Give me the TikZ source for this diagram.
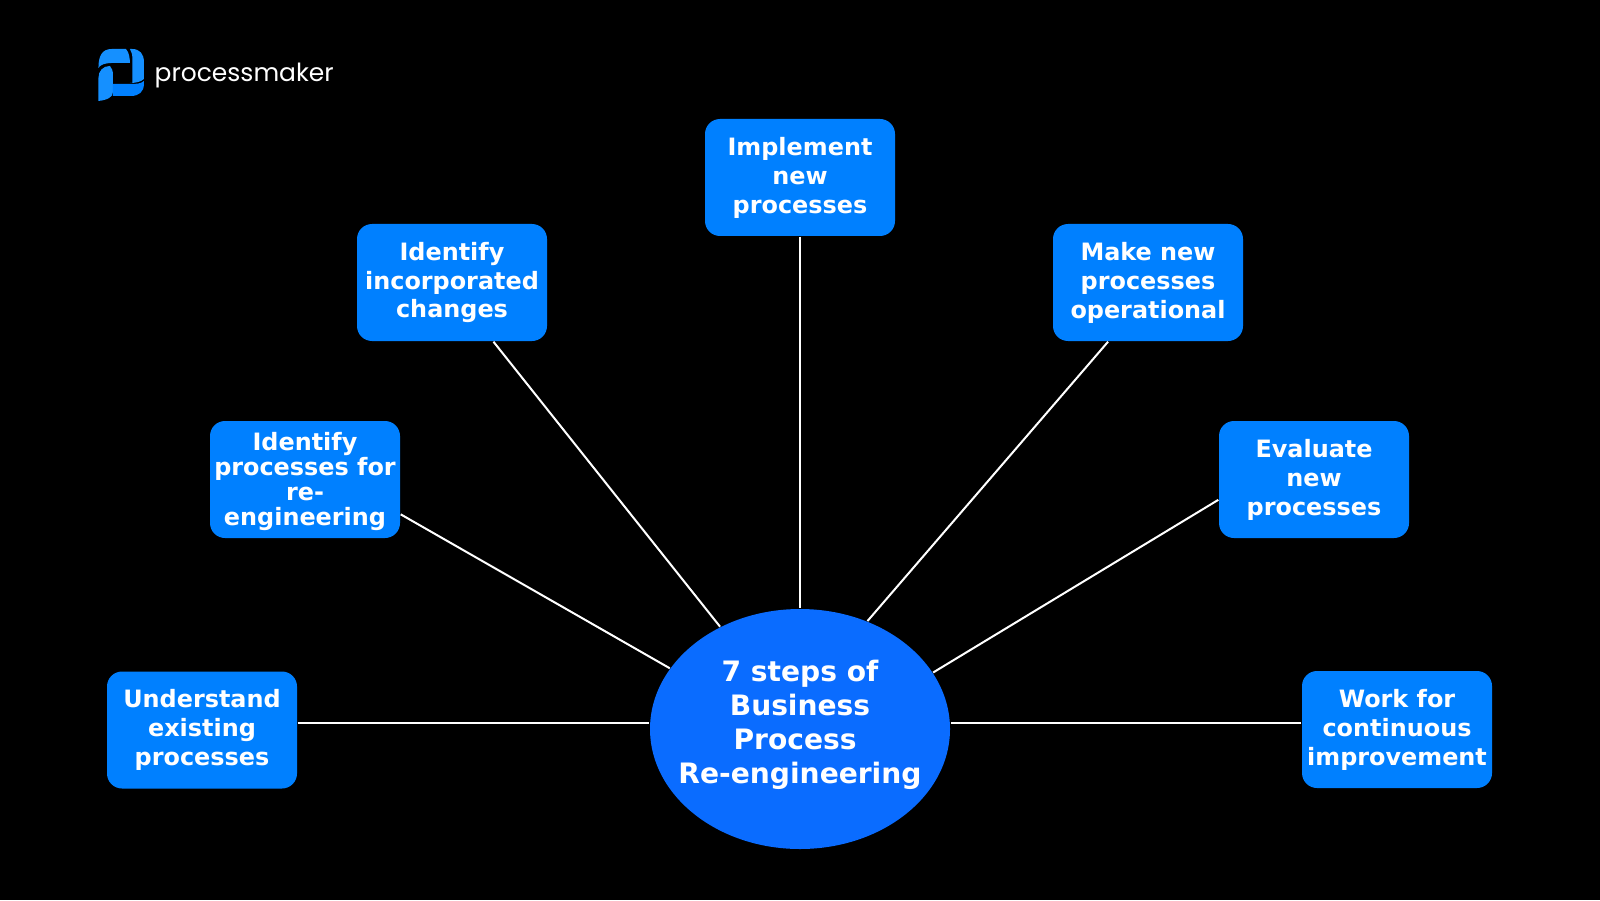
\documentclass[tikz,border=0pt]{standalone}
\usepackage{fontspec}
\setmainfont{DejaVu Sans}
\newfontfamily\logofont{Poppins}
\usetikzlibrary{shapes.geometric}
\definecolor{stepblue}{HTML}{0080FF}
\definecolor{hubblue}{HTML}{0A6CFF}
\definecolor{logoblue}{HTML}{1590FF}
\tikzset{
  stepbox/.style={rectangle, rounded corners=0.15cm, fill=stepblue, text=white,
    minimum width=1.9cm, minimum height=1.17cm, inner sep=0pt, align=center,
    font=\fontsize{6.8pt}{8.25pt}\selectfont\bfseries},
  tightbox/.style={stepbox, text depth=0.02cm, font=\fontsize{6.8pt}{7.1pt}\selectfont\bfseries},
  hubnode/.style={ellipse, fill=hubblue, text=white, minimum width=3cm,
    minimum height=2.4cm, inner xsep=-0.2cm, inner ysep=-0.1cm, align=center,
    text depth=0.14cm, font=\fontsize{8pt}{9.67pt}\selectfont\bfseries},
  link/.style={draw=white, line width=0.02cm}
}
\begin{document}
\begin{tikzpicture}[x=1cm, y=1cm]
  \useasboundingbox[fill=black] (0,0) rectangle (16,9);

  % Logo
  \begin{scope}[shift={(0,9)}, x=0.01cm, y=-0.01cm]
    \fill[logoblue] (98.5,68) .. controls (98.5,56) and (102,49) .. (112,49) -- (126,49)
      .. controls (129,52) and (130,58) .. (130,63) -- (112,63)
      .. controls (105,63) and (100,65) .. (98.5,68) -- cycle;
    \fill[logoblue] (98.5,101) -- (98.5,78) .. controls (98.5,71) and (103,66) .. (110,66)
      .. controls (112,68) and (113,71) .. (113,75) -- (113,92)
      .. controls (113,97) and (108,100) .. (98.5,101) -- cycle;
    \fill[logoblue] (132,49) .. controls (140,49) and (144,54) .. (144,62) -- (144,79)
      .. controls (141,82) and (136,83) .. (130,83) -- (132.5,83) -- (132.5,60)
      .. controls (132.5,55) and (132,52) .. (130,49) -- cycle;
    \fill[stepblue] (113,84) -- (130,84) .. controls (136,84) and (141,84) .. (144,81)
      -- (144,84) .. controls (144,92) and (139,96) .. (131,96) -- (113,96) -- cycle;
  \end{scope}
  \node[anchor=west, inner sep=0pt, text=white, font=\logofont\fontsize{7.1pt}{8pt}\selectfont] (logotext) at (1.54,8.24) {processmaker};

  % Center
  \node[hubnode] (hub) at (8,1.71) {7 steps of\\Business\\Process\ \mbox{}\\Re-engineering};

  % Steps
  \foreach \name/\x/\y/\txt in {
      understand/2.02/1.70/{Understand\\existing\\processes},
      identchg/4.52/6.175/{Identify\\incorporated\\changes},
      implement/8.00/7.225/{Implement\\new\\processes},
      makenew/11.48/6.175/{Make new\\processes\\operational},
      evaluate/13.14/4.205/{Evaluate\\new\\processes},
      workfor/13.97/1.705/{Work for\\continuous\\improvement}} {
    \node[stepbox] (\name) at (\x,\y) {\txt};
  }
  \node[tightbox] (identproc) at (3.05,4.205) {Identify\\processes for\\re-\\engineering};

  % Connectors
  \foreach \name/\a/\b in {identproc/-20/155.2, identchg/-55.3/128.2,
      implement/-90/90, makenew/236/58.6, evaluate/192.2/23} {
    \draw[link] (\name.\a) -- (hub.\b);
  }
  \draw[link] (understand.4.2) -- (understand.4.2 -| hub.west);
  \draw[link] (workfor.176.5) -- (workfor.176.5 -| hub.east);
\end{tikzpicture}
\end{document}
